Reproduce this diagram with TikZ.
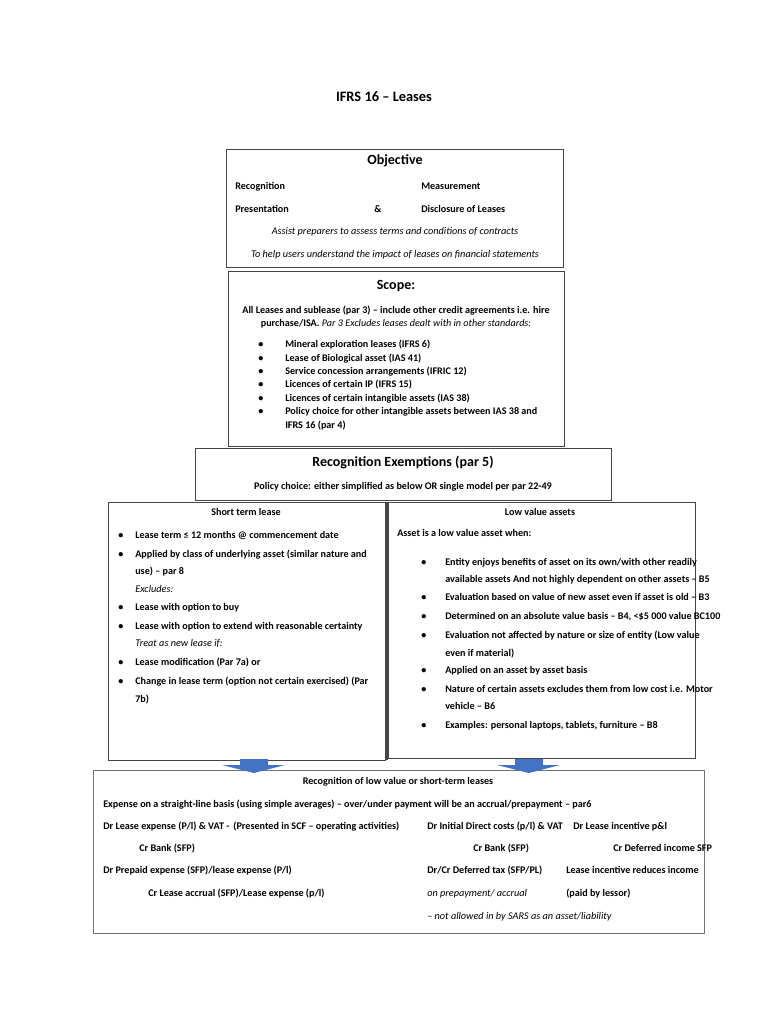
\documentclass[tikz,border=0pt]{standalone}
\usepackage{fontspec}
\setmainfont{Carlito}
\definecolor{arrowblue}{RGB}{68, 114, 196}
\definecolor{boxgray}{RGB}{70, 70, 70}
\usetikzlibrary{positioning, calc}

\begin{document}
\begin{tikzpicture}[x=0.75pt, y=-0.75pt,
  body/.style={font=\fontsize{7.6}{9}\selectfont\bfseries, inner sep=0pt, text height=1.5ex, text depth=0.35ex},
  lbody/.style={body, anchor=west},
  ital/.style={body, font=\fontsize{7.7}{9}\selectfont\itshape},
  head/.style={font=\fontsize{10.5}{12}\selectfont\bfseries, inner sep=0pt},
  bul/.style={body, anchor=center},
  frame/.style={draw=boxgray, line width=0.6pt}]
  \useasboundingbox (0,0) rectangle (768,1024);

  % Title
  \node[head, font=\fontsize{10.8}{12}\selectfont\bfseries] (title) at (384,97) {IFRS 16 -- Leases};

  % Objective
  \draw[frame] (226,149) rectangle (563,267);
  \node[head] (obj) at (395,161) {Objective};
  \node[lbody] (obj-rec) at (235,186) {Recognition};
  \node[lbody] (obj-meas) at (421,186) {Measurement};
  \node[lbody] (obj-pres) at (235,209) {Presentation};
  \node[body] (obj-and) at (378,209) {\&};
  \node[lbody] (obj-disc) at (421,209) {Disclosure of Leases};
  \node[ital] (obj-assist) at (395,231) {Assist preparers to assess terms and conditions of contracts};
  \node[ital] (obj-help) at (395,254) {To help users understand the impact of leases on financial statements};

  % Scope
  \draw[frame] (228,271) rectangle (564,446);
  \node[head] (scope) at (396,286) {Scope:};
  \node[body] (scope-all) at (396,310) {All Leases and sublease (par 3) -- include other credit agreements i.e. hire};
  \node[body] (scope-isa) at (396,323) {purchase/ISA. \textit{\mdseries Par 3 Excludes leases dealt with in other standards:}};
  \foreach \t [count=\i] in {Mineral exploration leases (IFRS 6), Lease of Biological asset (IAS 41),
    Service concession arrangements (IFRIC 12), Licences of certain IP (IFRS 15),
    Licences of certain intangible assets (IAS 38), Policy choice for other intangible assets between IAS 38 and}
  {
    \node[bul] (sc-b\i) at (261,330.6+13.4*\i) {\textbullet};
    \node[lbody] (sc-\i) at (285,330.6+13.4*\i) {\t};
  }
  \node[lbody] (sc-cont) at (285,425) {IFRS 16 (par 4)};

  % Recognition exemptions
  \draw[frame] (195,448) rectangle (611,500);
  \node[head] (exempt) at (403,462) {Recognition Exemptions (par 5)};
  \node[body] (policy) at (403,486) {Policy choice: either simplified as below OR single model per par 22-49};

  % Short term lease
  \draw[frame] (108,502) rectangle (385,760);
  \node[body] (short) at (246,512) {Short term lease};
  \foreach \y/\t [count=\i] in {535/{Lease term ≤ 12 months @ commencement date},
    554/{Applied by class of underlying asset (similar nature and},
    607/{Lease with option to buy},
    626/{Lease with option to extend with reasonable certainty},
    662/{Lease modification (Par 7a) or},
    681/{Change in lease term (option not certain exercised) (Par}}
  {
    \node[bul] (st-b\i) at (121,\y) {\textbullet};
    \node[lbody] (st-\i) at (135,\y) {\t};
  }
  \node[lbody] (st-use) at (135,571) {use) -- par 8};
  \node[ital, anchor=west] (st-excl) at (135,589) {Excludes:};
  \node[ital, anchor=west] (st-treat) at (135,643) {Treat as new lease if:};
  \node[lbody] (st-7b) at (135,699) {7b)};

  % Low value assets
  \draw[frame] (388,502) rectangle (695,758);
  \draw[boxgray, line width=1.8pt] (386.5,502) -- (386.5,760);
  \node[body] (low) at (540,512) {Low value assets};
  \node[lbody] (low-when) at (397,533) {Asset is a low value asset when:};
  \foreach \y/\t [count=\i] in {562/{Entity enjoys benefits of asset on its own/with other readily},
    597/{Evaluation based on value of new asset even if asset is old -- B3},
    616/{Determined on an absolute value basis -- B4, <\$5 000 value BC100},
    635/{Evaluation not affected by nature or size of entity (Low value},
    670/{Applied on an asset by asset basis},
    689/{Nature of certain assets excludes them from low cost i.e. Motor},
    725/{Examples: personal laptops, tablets, furniture -- B8}}
  {
    \node[bul] (lv-b\i) at (424,\y) {\textbullet};
    \node[lbody] (lv-\i) at (445,\y) {\t};
  }
  \node[lbody] (lv-avail) at (445,579) {available assets And not highly dependent on other assets -- B5};
  \node[lbody] (lv-mat) at (445,653) {even if material)};
  \node[lbody] (lv-veh) at (445,706) {vehicle -- B6};

  % Recognition of low value or short-term leases
  \draw[frame, draw=black!55] (93,770) rectangle (704,933);
  \node[body] (rec) at (398,781) {Recognition of low value or short-term leases};
  \node[lbody] (rec-exp) at (103,804) {Expense on a straight-line basis (using simple averages) -- over/under payment will be an accrual/prepayment -- par6};
  \node[lbody] (dr-lease) at (103,826) {Dr Lease expense (P/l) \& VAT - \,(Presented in SCF -- operating activities)};
  \node[lbody] (cr-bank) at (139,848) {Cr Bank (SFP)};
  \node[lbody] (dr-prep) at (103,870) {Dr Prepaid expense (SFP)/lease expense (P/l)};
  \node[lbody] (cr-accr) at (148,893) {Cr Lease accrual (SFP)/Lease expense (p/l)};
  \node[lbody] (dr-idc) at (427,826) {Dr Initial Direct costs (p/l) \& VAT};
  \node[lbody] (dr-inc) at (573,826) {Dr Lease incentive p\&l};
  \node[lbody] (cr-bank2) at (473,848) {Cr Bank (SFP)};
  \node[lbody] (cr-def) at (613,848) {Cr Deferred income SFP};
  \node[lbody] (dr-tax) at (427,870) {Dr/Cr Deferred tax (SFP/PL)};
  \node[lbody] (inc-red) at (566,870) {Lease incentive reduces income};
  \node[ital, anchor=west] (on-prep) at (427,893) {on prepayment/ accrual};
  \node[lbody] (paid) at (566,893) {(paid by lessor)};
  \node[ital, anchor=west] (sars) at (427,916) {-- not allowed in by SARS as an asset/liability};

  % Block arrows
  \coordinate (arr-l) at (254,759);
  \coordinate (arr-r) at (529,759);
  \foreach \a in {arr-l, arr-r}
    \fill[arrowblue] (\a) ++(-14,0) -- ++(28,0) -- ++(0,6) -- ++(17,0) -- ++(-31,8) -- ++(-32,-8) -- ++(18,0) -- cycle;
\end{tikzpicture}
\end{document}
